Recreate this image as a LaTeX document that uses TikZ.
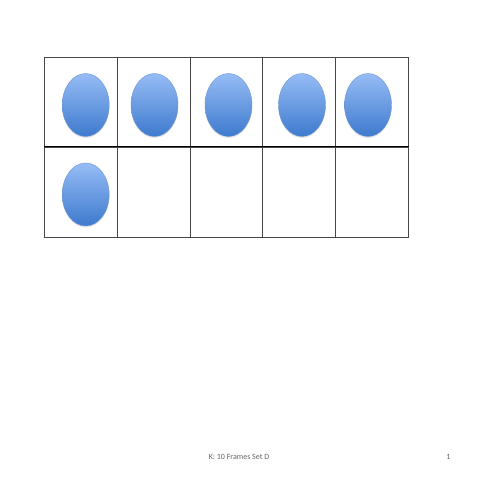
\documentclass[tikz,border=0pt]{standalone}
\usepackage{fontspec}
\newfontfamily\footfont{Carlito}
\usepackage{tikz}
\usetikzlibrary{matrix,shapes.geometric,shadows}
\definecolor{ovaltop}{RGB}{150,188,245}
\definecolor{ovalbot}{RGB}{62,122,206}
\definecolor{ovalline}{RGB}{110,150,210}
\definecolor{gridline}{RGB}{70,70,70}

\begin{document}
\begin{tikzpicture}[x=1pt,y=1pt,
    cell/.style={draw=gridline,line width=0.9pt,minimum width=72.8pt,
        minimum height=90pt,inner sep=0pt},
    counter/.style={ellipse,minimum width=47pt,minimum height=63pt,inner sep=0pt,
        draw=ovalline,line width=0.4pt,top color=ovaltop,bottom color=ovalbot,
        drop shadow={opacity=0.2,shadow xshift=0pt,shadow yshift=-1.5pt}},
    foot/.style={font=\footfont\fontsize{8}{9.5}\selectfont,black!60}]
    \useasboundingbox (0,0) rectangle (480,480);
    \fill[white] (0,0) rectangle (480,480);
    \matrix (frame) [matrix of nodes,
        nodes in empty cells,
        nodes={cell},
        column sep=-0.9pt,row sep=-0.9pt
    ] at (226.5,333)
    {
        & & & & \\
        & & & & \\
    };

    \draw[black,line width=1.8pt] (frame-2-1.north west) -- (frame-2-5.north east);

    % counters
    \foreach \x/\n in {85.7/1,154.5/2,228.5/3,302/4,368/5}
        \node[counter] (dot-\n) at (\x,375) {};
    \node[counter] (dot-6) at (85.7,285.5) {};

    \node[foot] (title) at (239,23) {K: 10 Frames Set D};
    \node[foot] (page) at (448.5,23) {1};
\end{tikzpicture}
\end{document}
